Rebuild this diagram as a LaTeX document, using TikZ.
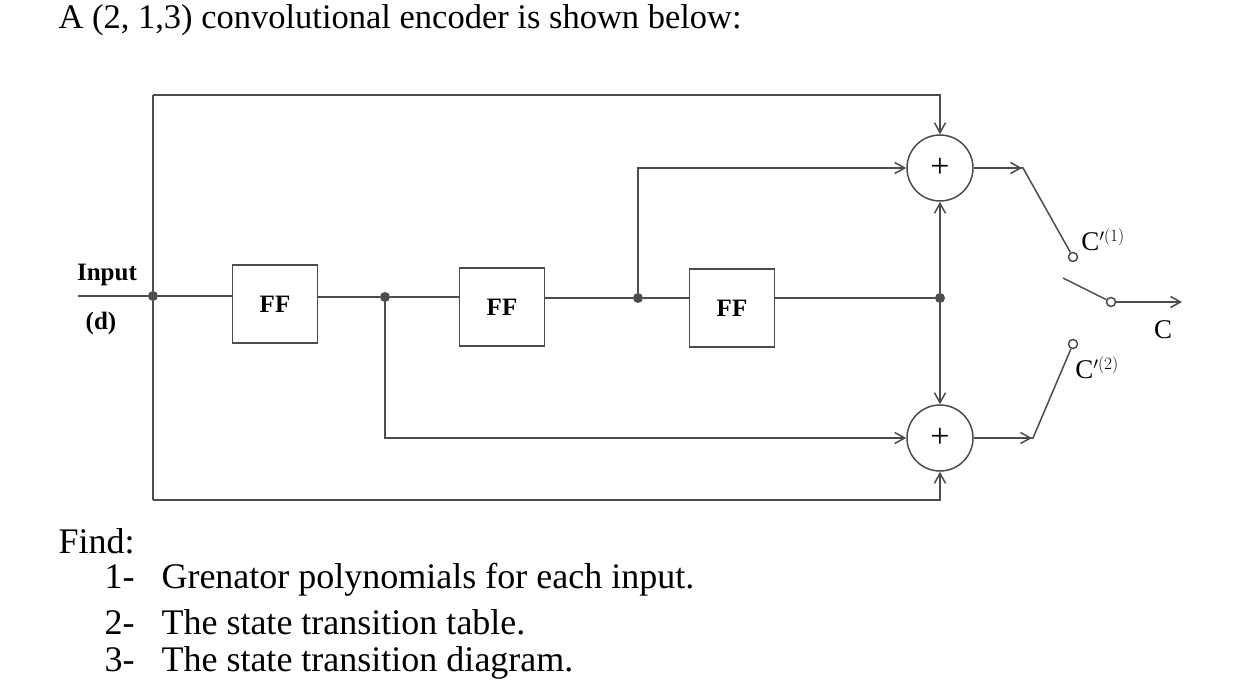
\documentclass[tikz,border=0pt]{standalone}
\usepackage{fontspec}
\setmainfont{Liberation Serif}
\usetikzlibrary{arrows.meta}
\begin{document}
\begin{tikzpicture}[x=1pt,y=-1pt,
  wire/.style={line width=1.5pt,gray!60!black},
  arr/.style={wire,-{Straight Barb[length=10pt,width=11pt]}},
  ff/.style={draw,line width=1.5pt,gray!60!black,minimum width=85pt,minimum height=78pt,font=\fontsize{25}{25}\selectfont\bfseries,text=black},
  add/.style={circle,draw,line width=1.5pt,gray!60!black,minimum size=66pt,inner sep=0pt,font=\fontsize{34}{34}\selectfont,text=black},
  jd/.style={circle,fill=gray!60!black,inner sep=0pt,minimum size=10pt},
  oc/.style={circle,draw,line width=1.5pt,gray!60!black,fill=white,inner sep=0pt,minimum size=9pt},
  big/.style={font=\fontsize{34.5}{34.5}\selectfont,anchor=west},
  item/.style={font=\fontsize{36}{36}\selectfont,anchor=west},
  lab/.style={font=\fontsize{27}{27}\selectfont}]
\useasboundingbox (0,0) rectangle (1235,687);
\node[big] (title) at (55,20) {A (2, 1,3) convolutional encoder is shown below:};
\node[item] (find) at (55,541) {Find:};
\node[item] (l1) at (101,580) {1-\ \ \ Grenator polynomials for each input.};
\node[item] (l2) at (101,622) {2-\ \ \ The state transition table.};
\node[item] (l3) at (101,663) {3-\ \ \ The state transition diagram.};
\node[font=\fontsize{25}{25}\selectfont\bfseries] (inl) at (107,275) {Input};
\node[font=\fontsize{25}{25}\selectfont\bfseries] (dl) at (101,323) {(d)};
\coordinate (in) at (78,296);
\node[jd] (j0) at (153,296) {};
\node[ff] (f1) at (275,304) {FF};
\node[ff] (f2) at (502,307) {FF};
\node[ff] (f3) at (732,308) {FF};
\node[jd] (j1) at (385,297) {};
\node[jd] (j2) at (638,298) {};
\node[jd] (j3) at (940,298) {};
\node[add] (a1) at (940,168) {+};
\node[add] (a2) at (940,438) {+};
\coordinate (tl) at (153,95); \coordinate (tr) at (940,95);
\coordinate (bl) at (153,500); \coordinate (br) at (940,500);
\draw[wire] (in) -- (j0) -- (j0-|f1.west);
\draw[wire] (f1.east|-j1) -- (j1) -- (j1-|f2.west);
\draw[wire] (f2.east|-j2) -- (j2) -- (j2-|f3.west);
\draw[wire] (f3.east|-j3) -- (j3);
\draw[wire] (j0) -- (tl); \draw[wire] (j0) -- (bl);
\draw[arr] (tl) -- (tr) -- (a1.north);
\draw[arr] (bl) -- (br) -- (a2.south);
\draw[arr] (j3) -- (a1.south);
\draw[arr] (j3) -- (a2.north);
\draw[arr] (j2) |- (a1.west);
\draw[arr] (j1) |- (a2.west);
% switch
\coordinate (o1) at (1023,168); \coordinate (o2) at (1033,438);
\node[oc] (c1) at (1073,257) {};
\node[oc] (c2) at (1073,344) {};
\node[oc] (c0) at (1111,302) {};
\coordinate (sw) at (1063,278);
\coordinate (out) at (1182,302);
\draw[arr] (a1.east) -- (1022,168);
\draw[wire] (1018,168) -- (o1) -- (c1);
\draw[arr] (a2.east) -- (1032,438);
\draw[wire] (1028,438) -- (o2) -- (c2);
\draw[wire] (sw) -- (c0);
\draw[arr] (c0) -- (out);
\node[lab] (cl1) at (1103,240) {C$^{\prime(1)}$};
\node[lab] (cl2) at (1097,368) {C$^{\prime(2)}$};
\node[lab] (cl) at (1163,330) {C};
\end{tikzpicture}
\end{document}
